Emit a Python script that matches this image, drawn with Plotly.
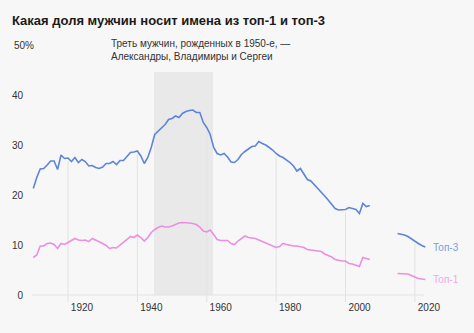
import plotly.graph_objects as go

# ---------------- data ----------------
years_a = list(range(1910, 2008))
top3_a = [21.3, 23.5, 25.2, 25.3, 26.0, 26.8, 26.8, 25.1, 28.0, 27.3,
          27.4, 26.7, 27.5, 26.5, 27.1, 26.7, 25.8, 25.9, 25.5, 25.3,
          25.6, 26.3, 26.3, 26.7, 26.1, 26.9, 26.9, 27.8, 28.5, 28.6,
          28.8, 27.8, 26.3, 27.5, 29.5, 32.1, 32.8, 33.5, 34.1, 35.1,
          35.3, 35.8, 35.5, 36.3, 36.7, 36.9, 37.0, 36.5, 36.5, 34.5,
          33.5, 32.1, 29.5, 28.3, 28.0, 28.3, 27.6, 26.6, 26.5, 27.1,
          28.1, 28.7, 29.3, 29.7, 29.8, 30.7, 30.3, 30.0, 29.5, 29.0,
          28.3, 27.8, 27.5, 27.0, 26.5, 25.8, 24.8, 25.3, 24.1, 23.1,
          22.8, 22.1, 21.3, 20.6, 19.8, 19.0, 18.1, 17.3, 17.0, 17.0,
          17.1, 17.5, 17.3, 17.1, 16.3, 18.3, 17.7, 17.9]
top1_a = [7.5, 8.0, 9.8, 9.8, 10.3, 10.4, 10.1, 9.3, 10.3, 10.1,
          10.5, 10.9, 11.3, 11.0, 10.9, 11.0, 10.7, 11.3, 11.0, 10.7,
          10.3, 9.9, 9.3, 9.5, 9.4, 10.0, 10.5, 11.1, 11.7, 11.5,
          12.0, 11.5, 10.8, 11.5, 12.5, 13.1, 13.5, 13.8, 13.6, 13.6,
          13.8, 14.1, 14.4, 14.5, 14.5, 14.4, 14.3, 14.1, 13.6, 12.8,
          12.6, 13.0, 12.1, 11.1, 10.9, 10.9, 10.9, 10.3, 10.1, 10.8,
          11.3, 11.8, 11.5, 11.4, 11.3, 11.0, 10.7, 10.4, 10.1, 9.9,
          9.5, 9.7, 10.3, 10.1, 9.9, 9.8, 9.8, 9.7, 9.5, 9.1,
          9.0, 8.9, 8.7, 8.7, 8.2, 7.9, 7.6, 7.1, 6.9, 6.8,
          6.8, 6.3, 6.2, 6.0, 5.7, 7.5, 7.3, 7.1]

years_b = list(range(2015, 2024))
top3_b = [12.3, 12.2, 12.0, 11.7, 11.2, 10.8, 10.3, 9.9, 9.6]
top1_b = [4.3, 4.3, 4.3, 4.2, 3.9, 3.6, 3.3, 3.2, 3.1]

x_ticks = [1920, 1940, 1960, 1980, 2000, 2020]
y_ticks = [0, 10, 20, 30, 40]
highlight = (1944.8, 1961.8)

title = "Какая доля мужчин носит имена из топ-1 и топ-3"
note = "Треть мужчин, рожденных в 1950-е, —<br>Александры, Владимиры и Сергеи"
label3 = "Топ-3"
label1 = "Топ-1"

# ---------------- style ----------------
W, H = 474, 333
X_RANGE = [1909.63, 2023.2]
PX_PER_YEAR = 3.47
ML, MT, MB = 32, 45, 30
PW = round((X_RANGE[1] - X_RANGE[0]) * PX_PER_YEAR)
MR = W - ML - PW
BLUE = "#5f84dc"
PINK = "#ee8ee0"
BG = "#f7f7f7"
GRID = "#e2e2e2"
FONT = "Liberation Sans, Arial, sans-serif"


def px_to_paper_x(px):
    return (px - ML) / PW


def year_to_paper_x(yr):
    return (yr - X_RANGE[0]) / (X_RANGE[1] - X_RANGE[0])


fig = go.Figure()
for xs, ys in [(years_a, top3_a), (years_b, top3_b)]:
    fig.add_trace(go.Scatter(x=xs, y=ys, mode="lines",
                             line=dict(color=BLUE, width=1.6),
                             hoverinfo="skip", showlegend=False))
for xs, ys in [(years_a, top1_a), (years_b, top1_b)]:
    fig.add_trace(go.Scatter(x=xs, y=ys, mode="lines",
                             line=dict(color=PINK, width=1.6),
                             hoverinfo="skip", showlegend=False))

shapes = []
# highlighted 1950s band
shapes.append(dict(type="rect", xref="x", yref="y", x0=highlight[0], x1=highlight[1],
                   y0=0, y1=44.6, fillcolor="#e9e9e9", line=dict(width=0), layer="below"))
# drop lines from top-3 curve to the axis
all_years = years_a + years_b
all_top3 = top3_a + top3_b
for t in x_ticks:
    if t in all_years:
        top = all_top3[all_years.index(t)]
        shapes.append(dict(type="line", xref="x", yref="y", x0=t, x1=t, y0=-1.4, y1=top - 0.6,
                           line=dict(color=GRID, width=1), layer="below"))
# baseline
shapes.append(dict(type="line", xref="x", yref="y", x0=1909.6, x1=2022.6, y0=0, y1=0,
                   line=dict(color=GRID, width=1), layer="below"))

annotations = [
    dict(text="50%", xref="paper", yref="y", x=px_to_paper_x(12), y=50,
         xanchor="left", yanchor="middle", showarrow=False,
         font=dict(size=10, color="#333333", family=FONT)),
    dict(text=note, xref="paper", yref="paper", x=px_to_paper_x(109), y=1 + (MT - 50) / (H - MT - MB),
         xanchor="left", yanchor="middle", align="left", showarrow=False,
         font=dict(size=10, color="#333333", family=FONT)),
    dict(text=label3, xref="paper", yref="y", x=year_to_paper_x(years_b[-1]), y=top3_b[-1], xshift=6,
         xanchor="left", yanchor="middle", showarrow=False,
         font=dict(size=10, color="#7b9be3", family=FONT)),
    dict(text=label1, xref="paper", yref="y", x=year_to_paper_x(years_b[-1]), y=top1_b[-1], xshift=6,
         xanchor="left", yanchor="middle", showarrow=False,
         font=dict(size=10, color="#f3a6e8", family=FONT)),
]

fig.update_layout(
    width=W, height=H,
    margin=dict(l=ML, r=MR, t=MT, b=MB),
    paper_bgcolor=BG, plot_bgcolor=BG,
    title=dict(text="<b>" + title + "</b>", x=12 / W, xanchor="left",
               y=1 - 20 / H, yanchor="middle", yref="container",
               font=dict(size=13, color="#1a1a1a", family=FONT)),
    xaxis=dict(range=X_RANGE, showgrid=False, zeroline=False, showline=False,
               tickvals=x_ticks, ticks="", ticklabelshift=14, ticklabelstandoff=-3,
               tickfont=dict(size=10, color="#333333", family=FONT), fixedrange=True),
    yaxis=dict(range=[-1.6, 50], showgrid=False, zeroline=False, showline=False,
               tickvals=y_ticks, ticks="", ticklabelstandoff=8,
               tickfont=dict(size=10, color="#333333", family=FONT), fixedrange=True),
    shapes=shapes, annotations=annotations,
)

fig.write_html("out.html")
